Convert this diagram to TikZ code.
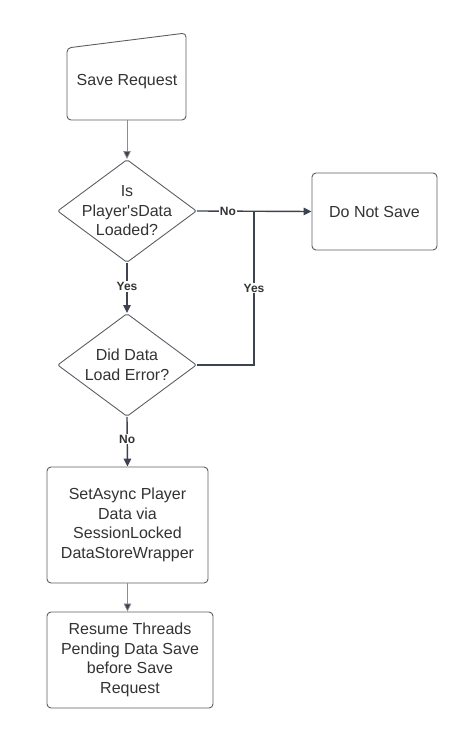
\documentclass[tikz,border=0pt]{standalone}
\usepackage{fontspec}
\setmainfont{Liberation Sans}
\usetikzlibrary{shapes.geometric,arrows.meta,calc}
\definecolor{txtc}{HTML}{333333}
\definecolor{brd}{HTML}{5A5F66}
\definecolor{lnc}{HTML}{3D4350}
\definecolor{lgc}{HTML}{8A8E94}
\tikzset{
  boxs/.style={draw=brd, line width=0.9pt, rounded corners=4pt, fill=white},
  dia/.style={draw=brd, line width=0.9pt, diamond, inner sep=0pt, minimum width=139pt, minimum height=103pt, rounded corners=2pt},
  txt/.style={text=txtc, font=\fontsize{16}{19.5}\selectfont, align=center},
  lbl/.style={text=txtc, font=\fontsize{12}{14}\selectfont\bfseries, fill=white, inner sep=1pt},
  conn/.style={draw=lnc, line width=1.4pt},
  arr/.style={conn, -{Triangle[length=8pt,width=7.5pt]}},
  thin/.style={draw=lgc, line width=0.7pt, -{Triangle[length=8pt,width=7.5pt,fill=lnc]}},
}
\begin{document}
\begin{tikzpicture}[x=1pt,y=-1pt]
\useasboundingbox (0,0) rectangle (474,743);
% Save Request (manual input)
\draw[boxs] (67,48) -- (186,33) -- (186,120) -- (67,120) -- cycle;
\node[txt] (save) at (127,82) {Save Request};
\coordinate (saveb) at (127,120);
% decision 1
\node[dia] (d1) at (127,211) {};
\node[txt] (d1t) at (d1) {Is\\Player\textquotesingle sData\\Loaded?};
% Do not save
\node[boxs, minimum width=125pt, minimum height=77pt, inner sep=0pt] (dns) at (374.5,211.5) {};
\node[txt] (dnst) at (dns) {Do Not Save};
% decision 2
\node[dia] (d2) at (127,365) {};
\node[txt] (d2t) at (d2) {Did Data\\Load Error?};
% box 3
\node[boxs, minimum width=161pt, minimum height=116pt, inner sep=0pt] (b3) at (127.5,525) {};
\node[txt] (b3t) at (b3) {SetAsync Player\\Data via\\SessionLocked\\DataStoreWrapper};
% box 4
\node[boxs, minimum width=166pt, minimum height=96pt, inner sep=0pt] (b4) at (130,660) {};
\node[txt] (b4t) at (b4) {Resume Threads\\Pending Data Save\\before Save\\Request};
% junction
\coordinate (j) at (254,211);
\coordinate (jb) at (254,365);
% connectors
\draw[thin] (saveb) -- (d1.north);
\draw[arr] (d1.east) -- node[lbl, pos=0.27] (no1) {No} (dns.west);
\draw[conn] (d2.east) -- (jb) -- node[lbl, pos=0.5] (yes2) {Yes} (j);
\draw[arr] (d1.south) -- node[lbl, pos=0.47] (yes1) {Yes} (d2.north);
\draw[arr] (d2.south) -- node[lbl, pos=0.45] (no2) {No} (b3.north);
\draw[thin] (b3.south) -- (b4.north -| b3.south);
\end{tikzpicture}
\end{document}
